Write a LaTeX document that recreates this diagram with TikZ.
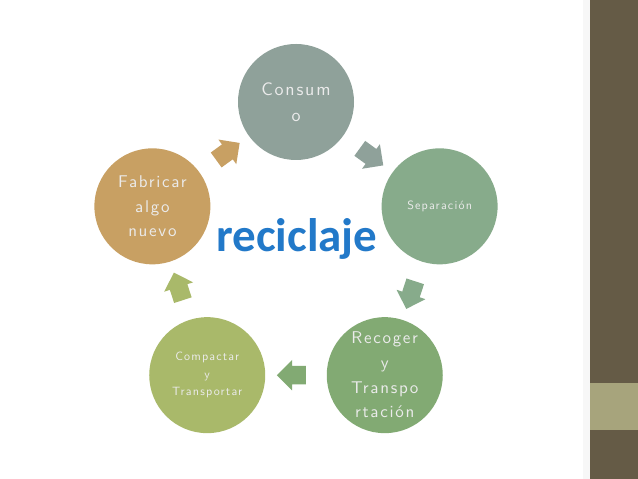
\documentclass[tikz,border=0pt]{standalone}
\usepackage{fontspec}
\newfontfamily\titlefont{Carlito}
\newfontfamily\etapafont{lmsans10-regular.otf}[LetterSpace=10]
\usetikzlibrary{calc,shapes.arrows}
\definecolor{consumo}{HTML}{8FA19A}
\definecolor{separa}{HTML}{87AB8B}
\definecolor{recoger}{HTML}{82AA73}
\definecolor{compacta}{HTML}{A9B96A}
\definecolor{fabrica}{HTML}{C8A063}
\definecolor{barra}{HTML}{655B46}
\definecolor{banda}{HTML}{A7A47C}
\definecolor{titulo}{HTML}{2279C9}
\newcommand{\letra}[1]{\etapafont\fontsize{#1}{#1}\selectfont}
\tikzset{
  etapa/.style={circle,minimum size=116pt,inner sep=0pt,align=center,
    text=white!92!black,execute at begin node=\setlength{\baselineskip}{1.45em}},
  flecha/.style={single arrow,draw=none,minimum height=29pt,inner xsep=0pt,
    inner ysep=9pt,single arrow head extend=6pt}
}

\begin{document}
\begin{tikzpicture}[x=1pt,y=1pt]
  \useasboundingbox (0,0) rectangle (638,479);
  \fill[white] (0,0) rectangle (590,479);
  \fill[gray!6] (583,0) rectangle (590,479);
  \fill[barra] (590,0) rectangle (638,479);
  \fill[banda] (590,49) rectangle (638,96);
  \coordinate (mid) at (296,226);
  \node[etapa,fill=consumo,font=\letra{18}] (cons) at ($(mid)+(90:151)$) {Consum\\o};
  \node[etapa,fill=separa,font=\letra{12}] (sep) at ($(mid)+(18:151)$) {Separación};
  \node[etapa,fill=recoger,font=\letra{17}] (reco) at ($(mid)+(-54:151)$) {Recoger\\y\\Transpo\\rtación};
  \node[etapa,fill=compacta,font=\letra{12}] (comp) at ($(mid)+(-126:151)$) {Compactar\\y\\Transportar};
  \node[etapa,fill=fabrica,font=\letra{17}] (fabr) at ($(mid)+(162:151)$) {Fabricar\\algo\\nuevo};
  \path (cons) -- node[flecha,fill=consumo,rotate=-36] (f1) {} (sep);
  \path (sep) -- node[flecha,fill=separa,rotate=-108] (f2) {} (reco);
  \path (reco) -- node[flecha,fill=recoger,rotate=180] (f3) {} (comp);
  \path (comp) -- node[flecha,fill=compacta,rotate=108] (f4) {} (fabr);
  \path (fabr) -- node[flecha,fill=fabrica,rotate=36] (f5) {} (cons);
  \node[anchor=base,text=titulo,font=\titlefont\bfseries\fontsize{47}{47}\selectfont] (tit) at (297,227) {reciclaje};
\end{tikzpicture}
\end{document}
